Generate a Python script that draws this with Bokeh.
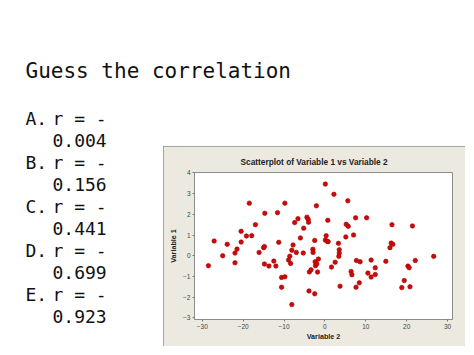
from bokeh.plotting import figure
from bokeh.models import Label, Range1d, FixedTicker, Spacer
from bokeh.layouts import column, row
from bokeh.embed import file_html
from bokeh.resources import INLINE

slide_title = "Guess the correlation"
option_letters = ["A.", "B.", "C.", "D.", "E."]
option_values = ["0.004", "0.156", "0.441", "0.699", "0.923"]

chart_title = "Scatterplot of Variable 1 vs Variable 2"
x_label = "Variable 2"
y_label = "Variable 1"
x_ticks = [-30, -20, -10, 0, 10, 20, 30]
y_ticks = [-3, -2, -1, 0, 1, 2, 3, 4]

variable_2 = [-28.5, -27.1, -23.9, -25.0, -22.0, -22.0, -21.5, -20.5, -20.5, -19.2,
              -18.5, -17.9, -17.0, -16.1, -15.0, -14.8, -14.7, -14.8, -13.7, -12.5,
              -12.0, -11.6, -11.3, -9.8, -10.6, -10.6, -9.8, -8.9, -8.6, -8.4,
              -8.1, -7.8, -8.1, -7.4, -7.0, -6.6, -6.0, -5.3, -5.2, -4.4,
              -4.1, -4.0, -3.9, -3.8, -3.4, -2.95, -2.9, -2.5, -2.5, -2.4,
              -2.1, -2.3, -2.0, -1.8, -1.6, 0.1, 0.1, 0.3, 0.5, 0.8,
              0.7, 1.6, 2.2, 2.5, 3.3, 3.5, 3.5, 3.4, 3.7, 5.1,
              5.2, 5.7, 5.6, 6.4, 6.6, 7.0, 7.5, 7.7, 7.6, 8.6,
              8.4, 10.2, 10.5, 11.3, 11.3, 12.3, 12.3, 14.9, 15.9, 16.2,
              16.6, 16.4, 18.8, 19.4, 20.3, 20.6, 20.8, 21.4, 22.1, 26.6]
variable_1 = [-0.48, 0.71, 0.55, 0.0, -0.34, 0.13, 0.32, 1.18, 0.66, 0.95,
              2.54, 0.97, 1.50, 0.16, 0.39, 0.44, 2.05, -0.40, -0.50, -0.26,
              -0.50, 2.08, 0.65, 2.54, -1.52, -1.05, -1.02, -0.21, -0.02, -0.37,
              0.27, 0.52, -2.36, 1.60, 0.16, 1.79, 0.86, 0.13, 1.33, 1.86,
              1.76, 1.62, -1.70, -0.78, -0.68, 0.31, 0.16, 0.74, -1.84, -0.29,
              2.41, -0.48, -0.39, -0.79, -0.16, 3.46, 0.76, 0.97, 0.70, 0.68,
              1.71, -0.55, 2.97, -0.31, 0.60, 0.29, 0.13, -0.03, -1.47, 0.91,
              1.52, 1.42, 2.65, -0.76, -0.92, 1.00, 1.83, -0.23, -1.52, -0.29,
              -1.31, 1.83, -0.84, -0.21, -1.03, -0.58, -0.91, -0.27, 0.39, 0.61,
              0.55, 1.50, -1.54, -1.20, -0.50, -0.58, -1.50, 1.44, -0.23, -0.03]

TEXT_COLOR = "#111111"
MONO = "DejaVu Sans Mono"


def blank(width, height):
    f = figure(width=width, height=height, output_backend="svg", toolbar_location=None,
               x_range=Range1d(0, width), y_range=Range1d(height, 0),
               min_border=0, min_border_left=0, min_border_right=0,
               min_border_top=0, min_border_bottom=0, title=None)
    f.axis.visible = False
    f.grid.visible = False
    f.outline_line_color = None
    f.border_fill_color = "white"
    f.background_fill_color = "white"
    return f


def text(f, x, y, s, size):
    f.add_layout(Label(x=x, y=y, x_units="canvas", y_units="canvas", text=s,
                       text_font=MONO, text_font_size=size, text_color=TEXT_COLOR,
                       text_baseline="middle"))


TOP_H = 92       # slide title strip
LEFT_W = 163     # options strip
PANEL_TOP = 146  # top of the chart panel
PANEL_W, PANEL_H = 302, 200

top = blank(474, TOP_H)
text(top, 25, 70, slide_title, "21px")

left = blank(LEFT_W, 355 - TOP_H)
for i, (letter, val) in enumerate(zip(option_letters, option_values)):
    y0 = 118 + i * 44 - TOP_H
    text(left, 25, y0, letter, "18px")
    text(left, 52, y0, "r = -", "18px")
    text(left, 52, y0 + 22, val, "18px")

# chart panel
p = figure(width=PANEL_W, height=PANEL_H, output_backend="svg", toolbar_location=None,
           x_range=Range1d(-31.9, 31.2), y_range=Range1d(-3.08, 4.02),
           min_border_left=31, min_border_right=13, min_border_top=26,
           min_border_bottom=27,
           styles={"outline": "1.5px solid #8C8C8C", "outline-offset": "-1.5px"})
p.border_fill_color = "#ECE9E1"
p.background_fill_color = "white"
p.outline_line_color = "#8C8C8C"
p.grid.visible = False

p.title.text = chart_title
p.title.align = "left"
p.title.offset = 46
p.title.text_font = "Liberation Sans"
p.title.text_font_style = "bold"
p.title.text_font_size = "8.3px"
p.title.text_color = "#222222"
p.title.standoff = 12

p.scatter(variable_2, variable_1, size=4.5, fill_color="#CC0A0A",
          line_color="#A80000", line_width=0.6)

for ax, ticks in ((p.xaxis[0], x_ticks), (p.yaxis[0], y_ticks)):
    ax.ticker = FixedTicker(ticks=ticks)
    ax.minor_tick_line_color = None
    ax.major_tick_in = 0
    ax.major_tick_out = 2
    ax.major_tick_line_color = "#777777"
    ax.axis_line_color = "#8C8C8C"
    ax.major_label_text_font = "Liberation Sans"
    ax.major_label_text_font_size = "6.5px"
    ax.major_label_text_color = "#444444"
    ax.major_label_standoff = 2
    ax.axis_label_text_font = "Liberation Sans"
    ax.axis_label_text_font_style = "bold"
    ax.axis_label_text_font_size = "7.2px"
    ax.axis_label_text_color = "#222222"

p.xaxis.axis_label_standoff = 0
p.yaxis.axis_label_standoff = 2
p.xaxis.axis_label = x_label
p.yaxis.axis_label = y_label

right = column(Spacer(width=PANEL_W, height=PANEL_TOP - TOP_H), p)
page = column(top, row(left, right))
open("out.html", "w").write(file_html(page, INLINE))
